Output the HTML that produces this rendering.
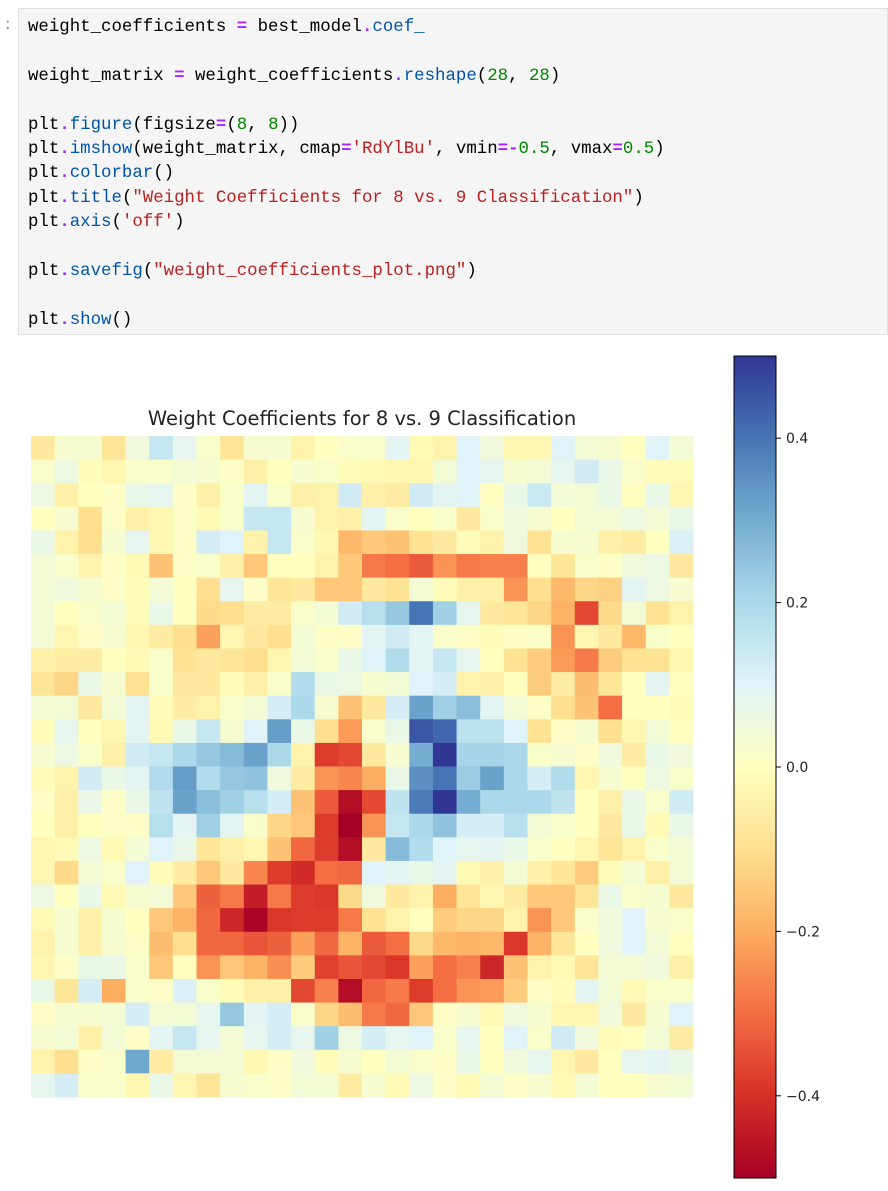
<!DOCTYPE html>
<html><head><meta charset="utf-8">
<style>
body{margin:0;width:888px;height:1191px;background:#fff;overflow:hidden;position:relative;font-family:"Liberation Sans",sans-serif;}
#prompt{position:absolute;left:3px;top:16px;font:16px "Liberation Mono",monospace;color:#999;}
#code{position:absolute;left:18px;top:8px;width:870px;height:327px;background:#f5f5f5;border:1px solid #e0e0e0;box-sizing:border-box;}
#code pre{margin:0;position:absolute;left:9px;top:7px;font:17.4px/24.4px "Liberation Mono",monospace;color:#000;}
.o{color:#aa22ff;font-weight:bold}.f{color:#0055aa}.n{color:#008800}.s{color:#ba2121}
svg{position:absolute;left:0;top:0;}
</style></head><body>
<div id="prompt">:</div>
<div id="code"><pre>weight_coefficients <span class="o">=</span> best_model<span class="o">.</span><span class="f">coef_</span>

weight_matrix <span class="o">=</span> weight_coefficients<span class="o">.</span><span class="f">reshape</span>(<span class="n">28</span>, <span class="n">28</span>)

plt<span class="o">.</span><span class="f">figure</span>(figsize<span class="o">=</span>(<span class="n">8</span>, <span class="n">8</span>))
plt<span class="o">.</span><span class="f">imshow</span>(weight_matrix, cmap<span class="o">=</span><span class="s">'RdYlBu'</span>, vmin<span class="o">=-</span><span class="n">0.5</span>, vmax<span class="o">=</span><span class="n">0.5</span>)
plt<span class="o">.</span><span class="f">colorbar</span>()
plt<span class="o">.</span><span class="f">title</span>(<span class="s">"Weight Coefficients for 8 vs. 9 Classification"</span>)
plt<span class="o">.</span><span class="f">axis</span>(<span class="s">'off'</span>)

plt<span class="o">.</span><span class="f">savefig</span>(<span class="s">"weight_coefficients_plot.png"</span>)

plt<span class="o">.</span><span class="f">show</span>()</pre></div>
<svg id="chart" width="888" height="1191">
<defs><linearGradient id="cbg" x1="0" y1="1" x2="0" y2="0">
<stop offset="0" stop-color="#a50026"/><stop offset="0.1" stop-color="#d73027"/><stop offset="0.2" stop-color="#f46d43"/><stop offset="0.3" stop-color="#fdae61"/><stop offset="0.4" stop-color="#fee090"/><stop offset="0.5" stop-color="#ffffbf"/><stop offset="0.6" stop-color="#e0f3f8"/><stop offset="0.7" stop-color="#abd9e9"/><stop offset="0.8" stop-color="#74add1"/><stop offset="0.9" stop-color="#4575b4"/><stop offset="1" stop-color="#313695"/>
</linearGradient></defs>
<text x="362" y="425" text-anchor="middle" font-family="DejaVu Sans, sans-serif" font-size="19.5" fill="#222">Weight Coefficients for 8 vs. 9 Classification</text>
<g id="cells"></g>
<rect x="734" y="356" width="42" height="822" fill="url(#cbg)" stroke="#000" stroke-width="1"/>
<g id="cbticks"></g>
</svg>
<script>
const rows = [
[-0.07,0.03,0.03,-0.08,0.05,0.15,0.08,0.02,-0.08,0.03,0.03,-0.04,0,0.02, 0.02,0.09,-0.02,-0.04,0.1,0.05,-0.03,-0.03,0.1,0.04,0.03,0,0.1,0.04],
[0.02,0.06,-0.01,-0.03,0.02,0.02,0.04,0.03,0.01,-0.05,0,0.03,0.02,-0.01, -0.02,-0.03,-0.03,0.04,0.1,0.08,0.03,0.04,0.08,0.13,0.07,0.02,-0.01,-0.01],
[0.06,-0.05,0,0.01,0.07,0.08,0.01,-0.05,0.02,0.09,0.02,-0.05,-0.04,0.13, -0.05,-0.06,0.13,0.09,0.1,0,0.07,0.14,0.04,0.04,0.07,0,0.07,-0.03],
[0,0.03,-0.1,0.01,-0.05,-0.03,0.01,-0.02,0.02,0.15,0.15,0.03,-0.04,-0.05, 0.09,0.02,0,0.02,-0.07,0.02,0.05,0.03,0,0.04,0.04,0.06,0.04,0.07],
[0.07,-0.04,-0.1,0.03,0.08,-0.03,0.01,0.12,0.1,-0.04,0.15,0.02,-0.03,-0.18, -0.15,-0.16,-0.09,-0.07,-0.01,-0.04,0.05,-0.09,0.03,0.03,-0.05,-0.06,0,0.11],
[0.04,0.02,-0.04,0.01,-0.02,-0.16,0.01,0.02,-0.05,-0.15,0,0,-0.04,-0.15, -0.28,-0.3,-0.33,-0.24,-0.28,-0.27,-0.27,0,-0.08,0.02,0.01,0.05,0.06,-0.07],
[0.04,0.05,0.03,0.01,-0.01,0.04,0,-0.1,0.08,0.01,-0.08,-0.07,-0.15,-0.15, -0.07,-0.09,0.04,-0.01,-0.05,-0.05,-0.24,-0.1,-0.18,-0.12,-0.13,0.09,0.06,0.03],
[0.04,0,0.02,0.04,-0.01,0.07,0,-0.11,-0.1,-0.06,-0.06,0.02,0.04,0.13, 0.18,0.24,0.4,0.22,0.08,-0.07,-0.08,-0.12,-0.19,-0.36,-0.11,0.04,-0.09,-0.04],
[0.04,-0.03,0.01,0.03,-0.03,-0.06,-0.1,-0.22,-0.03,-0.07,-0.1,0.04,0.01,0.01, 0.09,0.13,0.09,0.02,0.01,-0.01,0.01,0.01,-0.24,-0.03,-0.07,-0.18,0.02,0],
[-0.05,-0.06,-0.06,0,-0.02,0.02,-0.09,-0.07,-0.08,-0.1,-0.03,0.04,0.02,0.07, 0.1,0.19,0.09,0.15,0.08,0,-0.09,-0.14,-0.23,-0.28,-0.14,-0.09,-0.09,-0.03],
[-0.08,-0.12,0.07,0.03,-0.09,0.02,-0.07,-0.07,-0.01,-0.05,0.02,0.19,0.07,0.06, 0.03,0.04,0.1,0.12,-0.04,-0.05,0,-0.14,-0.06,-0.17,-0.08,0,0.09,0],
[0.04,0.04,-0.07,0.04,0.09,-0.01,-0.06,-0.04,0.02,0.04,0.12,0.2,0.03,-0.16, -0.07,0.12,0.32,0.22,0.26,0.09,0.04,0.01,-0.1,-0.16,-0.3,0,0,-0.01],
[-0.01,0.08,0,-0.03,0.09,-0.02,0.07,0.15,0.03,0.1,0.33,0.07,-0.1,-0.23, 0.02,0.07,0.45,0.42,0.17,0.17,0.1,-0.09,0.01,0.03,-0.1,-0.03,0.04,0],
[0.03,0.06,0.02,-0.05,0.13,0.15,0.2,0.24,0.27,0.32,0.2,-0.04,-0.38,-0.36, -0.07,0.03,0.3,0.5,0.21,0.21,0.2,0.02,0.03,0.01,0.05,-0.06,0.07,0.05],
[-0.01,-0.04,0.13,0.07,0.09,0.19,0.33,0.19,0.24,0.25,0.05,-0.06,-0.24,-0.26, -0.2,0.07,0.35,0.4,0.23,0.32,0.2,0.12,0.19,-0.03,0.03,0,0.06,0.02],
[0.01,-0.05,0.07,0.01,0.07,0.16,0.32,0.26,0.22,0.18,0.12,-0.16,-0.33,-0.47, -0.36,0.16,0.39,0.5,0.3,0.2,0.2,0.2,0.16,0,-0.05,0.07,0.02,0.13],
[0,-0.05,0,0.01,0.01,0.18,0.09,0.22,0.09,0.02,-0.12,-0.15,-0.38,-0.5, -0.24,0.15,0.2,0.25,0.12,0.12,0.18,0.04,0.02,0,-0.07,0.07,-0.02,0.07],
[-0.03,-0.02,0.06,-0.02,0.04,0.1,0.07,-0.08,-0.05,-0.03,-0.16,-0.31,-0.38,-0.47, -0.07,0.27,0.19,0.1,0.08,0.09,0.07,0.02,0,-0.03,-0.08,-0.04,0.02,0.04],
[-0.03,-0.11,0.04,0.02,0.1,-0.01,-0.06,-0.15,-0.07,-0.26,-0.38,-0.41,-0.3,-0.31, 0.1,0.09,0.07,0.09,-0.02,-0.05,0.04,-0.05,-0.08,-0.14,-0.01,0.04,-0.05,0.04],
[0.06,0,0.07,-0.02,0.03,0.04,-0.15,-0.32,-0.28,-0.44,-0.28,-0.38,-0.39,-0.11, 0.05,-0.07,-0.04,-0.2,-0.08,-0.03,-0.06,-0.15,-0.15,-0.08,0.07,0.02,0.03,-0.07],
[-0.02,0.03,-0.05,0.03,0,-0.15,-0.19,-0.31,-0.42,-0.49,-0.39,-0.38,-0.38,-0.28, -0.09,-0.04,0,-0.14,-0.12,-0.12,-0.04,-0.24,-0.15,0.02,0.05,0.1,0.03,0.02],
[-0.04,0.03,-0.05,0.03,0.01,-0.17,-0.1,-0.31,-0.31,-0.34,-0.32,-0.22,-0.31,-0.19, -0.33,-0.3,-0.11,-0.18,-0.19,-0.18,-0.39,-0.19,-0.08,0,0.05,0.1,0.04,0],
[-0.03,0.01,0.07,0.07,0.02,-0.15,0,-0.24,-0.15,-0.19,-0.25,-0.14,-0.37,-0.34, -0.36,-0.39,-0.22,-0.3,-0.27,-0.42,-0.16,-0.04,-0.02,-0.08,0.04,0.04,0.05,-0.05],
[0.07,-0.08,0.12,-0.2,0.02,0.01,0.11,0.02,-0.01,-0.05,-0.05,-0.36,-0.27,-0.47, -0.31,-0.28,-0.38,-0.3,-0.24,-0.23,-0.14,0.01,-0.01,0.09,0.04,-0.02,0.02,0.02],
[0.01,0.03,0.03,0.04,0.12,0.04,0.04,0.08,0.24,0.09,0.12,0.02,-0.12,-0.17, -0.28,-0.31,-0.15,0.01,0.03,-0.02,0.05,0.03,-0.03,-0.03,0.05,-0.07,0.03,0.1],
[0.03,0.04,-0.05,0.04,0.01,0.09,0.15,0.08,0.04,0.08,0.12,0.08,0.22,0.06, 0.12,0.08,0.1,0.02,0.08,0,0.1,0.02,0.13,0.05,-0.01,0,0.04,-0.06],
[-0.04,-0.1,0.01,0.02,0.31,-0.06,0.04,0.04,0.04,-0.03,0.01,0.05,-0.01,0.03, 0,0.04,0.02,0.01,0.07,0,0.05,0.08,-0.03,-0.07,0,0.08,0.09,0.07],
[0.08,0.12,0.02,0.02,-0.03,0.07,-0.03,-0.08,0.03,0.02,0.01,0.04,0.04,-0.06, 0.03,-0.02,0.06,0.01,-0.02,0.04,0.01,0.03,-0.02,0.04,0,0,0.03,0.04]
];
const cbTickValues = [0.4, 0.2, 0.0, -0.2, -0.4];
const cbTickLabels = ["0.4", "0.2", "0.0", "\u22120.2", "\u22120.4"];

const vmin = -0.5, vmax = 0.5;
const imgX = 31, imgY = 436, imgW = 662, imgH = 661;
const cbTop = 356, cbBot = 1178, cbX = 776;
const stops = ["#a50026","#d73027","#f46d43","#fdae61","#fee090","#ffffbf","#e0f3f8","#abd9e9","#74add1","#4575b4","#313695"];
function hex(h){return [1,3,5].map(i=>parseInt(h.substr(i,2),16));}
function cmap(v){
  let t=(v-vmin)/(vmax-vmin); t=Math.max(0,Math.min(1,t));
  const p=t*10, i=Math.min(9,Math.floor(p)), f=p-i;
  const a=hex(stops[i]), b=hex(stops[i+1]);
  return "rgb("+a.map((c,k)=>Math.round(c+(b[k]-c)*f)).join(",")+")";
}
const xCell = c => imgX + c*imgW/28;
const yCell = r => imgY + r*imgH/28;
const yCb = v => cbBot - (v - vmin)/(vmax - vmin)*(cbBot - cbTop);
const NS="http://www.w3.org/2000/svg";
const g=document.getElementById("cells");
rows.forEach((row,r)=>row.forEach((v,c)=>{
  const el=document.createElementNS(NS,"rect");
  el.setAttribute("x",xCell(c));
  el.setAttribute("y",yCell(r));
  el.setAttribute("width",imgW/28+0.5);
  el.setAttribute("height",imgH/28+0.5);
  el.setAttribute("fill",cmap(v));
  
  
  g.appendChild(el);
}));
const tg=document.getElementById("cbticks");
cbTickValues.forEach((v,i)=>{
  const y=yCb(v);
  const ln=document.createElementNS(NS,"line");
  ln.setAttribute("x1",cbX); ln.setAttribute("x2",cbX+5);
  ln.setAttribute("y1",y); ln.setAttribute("y2",y);
  ln.setAttribute("stroke","#000");
  
  
  tg.appendChild(ln);
  const t=document.createElementNS(NS,"text");
  t.setAttribute("x",cbX+10); t.setAttribute("y",y+5);
  t.setAttribute("font-family","DejaVu Sans, sans-serif");
  t.setAttribute("font-size","14");
  t.setAttribute("fill","#222");
  t.textContent=cbTickLabels[i];
  
  
  tg.appendChild(t);
});
</script>
</body></html>
